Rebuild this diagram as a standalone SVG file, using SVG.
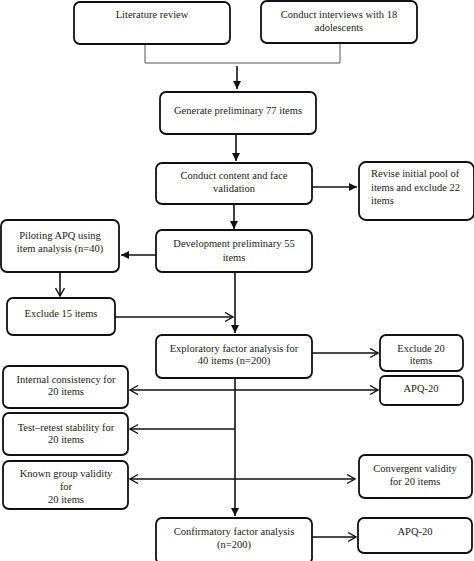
<svg xmlns="http://www.w3.org/2000/svg" width="474" height="561" viewBox="0 0 474 561">
<style>
.b{fill:#fff;stroke:#111;stroke-width:1.8}
.t{font-family:"Liberation Serif","Times New Roman",serif;font-size:10.5px;fill:#222;text-anchor:middle}
.l{text-anchor:start}
.c{fill:none;stroke:#111;stroke-width:1.6}
.g{fill:none;stroke:#555;stroke-width:1}
</style>
<defs>
<marker id="fa" markerUnits="userSpaceOnUse" markerWidth="10" markerHeight="10" refX="8" refY="4" orient="auto">
<path d="M0,0 L8,4 L0,8 Z" fill="#111"/>
</marker>
<marker id="oa" markerUnits="userSpaceOnUse" markerWidth="12" markerHeight="12" refX="9" refY="5" orient="auto-start-reverse">
<path d="M1,0.5 L9,5 L1,9.5" fill="none" stroke="#111" stroke-width="1.4"/>
</marker>
</defs>
<rect width="474" height="561" fill="#fff"/>
<g id="connectors">
<path class="g" d="M145,44 V63 H340 V43"/>
<path class="c" d="M237,66 V89" marker-end="url(#fa)"/>
<path class="c" d="M236,134 V161" marker-end="url(#fa)"/>
<path class="c" d="M312,187 H357" marker-end="url(#fa)"/>
<path class="c" d="M234,204 V229" marker-end="url(#fa)"/>
<path class="c" d="M156,255 H121" marker-end="url(#fa)"/>
<path class="c" d="M60,272 V296" marker-end="url(#oa)"/>
<path class="c" d="M115,317 H233" marker-end="url(#oa)"/>
<path class="c" d="M235,272 V333" marker-end="url(#fa)"/>
<path class="c" d="M312,353 H378" marker-end="url(#oa)"/>
<path class="c" d="M130,390 H378" marker-start="url(#oa)" marker-end="url(#oa)"/>
<path class="c" d="M235,378 V516" marker-end="url(#fa)"/>
<path class="c" d="M235,429 H130" marker-end="url(#oa)"/>
<path class="c" d="M130,479 H355" marker-start="url(#oa)" marker-end="url(#oa)"/>
<path class="c" d="M312,537 H356" marker-end="url(#oa)"/>
</g>
<g id="n1"><rect class="b" x="74" y="2" width="156" height="42" rx="6"/><text class="t" x="152" y="18">Literature review</text></g>
<g id="n2"><rect class="b" x="261" y="1" width="156" height="42" rx="6"/><text class="t" x="339" y="18">Conduct interviews with 18</text><text class="t" x="339" y="31">adolescents</text></g>
<g id="n3"><rect class="b" x="160" y="92" width="156" height="42" rx="6"/><text class="t" x="238" y="114">Generate preliminary 77 items</text></g>
<g id="n4"><rect class="b" x="156" y="163" width="156" height="41" rx="6"/><text class="t" x="234" y="179">Conduct content and face</text><text class="t" x="234" y="192">validation</text></g>
<g id="n5"><rect class="b" x="359" y="162" width="115" height="58" rx="7"/><text class="t l" x="371" y="177">Revise initial pool of</text><text class="t l" x="371" y="191">items and exclude 22</text><text class="t l" x="371" y="204">items</text></g>
<g id="n6"><rect class="b" x="156" y="230" width="156" height="42" rx="6"/><text class="t" x="234" y="247">Development preliminary 55</text><text class="t" x="234" y="261">items</text></g>
<g id="n7"><rect class="b" x="1" y="220" width="118" height="52" rx="6"/><text class="t" x="60" y="239">Piloting APQ using</text><text class="t" x="60" y="252">item analysis (n=40)</text></g>
<g id="n8"><rect class="b" x="7" y="298" width="108" height="37" rx="6"/><text class="t" x="61" y="317">Exclude 15 items</text></g>
<g id="n9"><rect class="b" x="156" y="335" width="156" height="43" rx="6"/><text class="t" x="234" y="352">Exploratory factor analysis for</text><text class="t" x="234" y="364">40 items (n=200)</text></g>
<g id="n10"><rect class="b" x="380" y="335" width="83" height="36" rx="6"/><text class="t" x="421" y="352">Exclude 20</text><text class="t" x="421" y="364">items</text></g>
<g id="n11"><rect class="b" x="380" y="376" width="83" height="29" rx="5"/><text class="t" x="421" y="392">APQ-20</text></g>
<g id="n12"><rect class="b" x="3" y="366" width="125" height="42" rx="6"/><text class="t" x="66" y="383">Internal consistency for</text><text class="t" x="66" y="395">20 items</text></g>
<g id="n13"><rect class="b" x="3" y="413" width="125" height="42" rx="6"/><text class="t" x="66" y="431">Test–retest stability for</text><text class="t" x="66" y="443">20 items</text></g>
<g id="n14"><rect class="b" x="3" y="461" width="125" height="48" rx="6"/><text class="t" x="66" y="477">Known group validity</text><text class="t" x="66" y="490">for</text><text class="t" x="66" y="503">20 items</text></g>
<g id="n15"><rect class="b" x="359" y="455" width="113" height="43" rx="6"/><text class="t" x="415" y="472">Convergent validity</text><text class="t" x="415" y="485">for 20 items</text></g>
<g id="n16"><rect class="b" x="156" y="518" width="156" height="46" rx="6"/><text class="t" x="234" y="535">Confirmatory factor analysis</text><text class="t" x="234" y="548">(n=200)</text></g>
<g id="n17"><rect class="b" x="358" y="518" width="114" height="35" rx="6"/><text class="t" x="415" y="535">APQ-20</text></g>
</svg>
